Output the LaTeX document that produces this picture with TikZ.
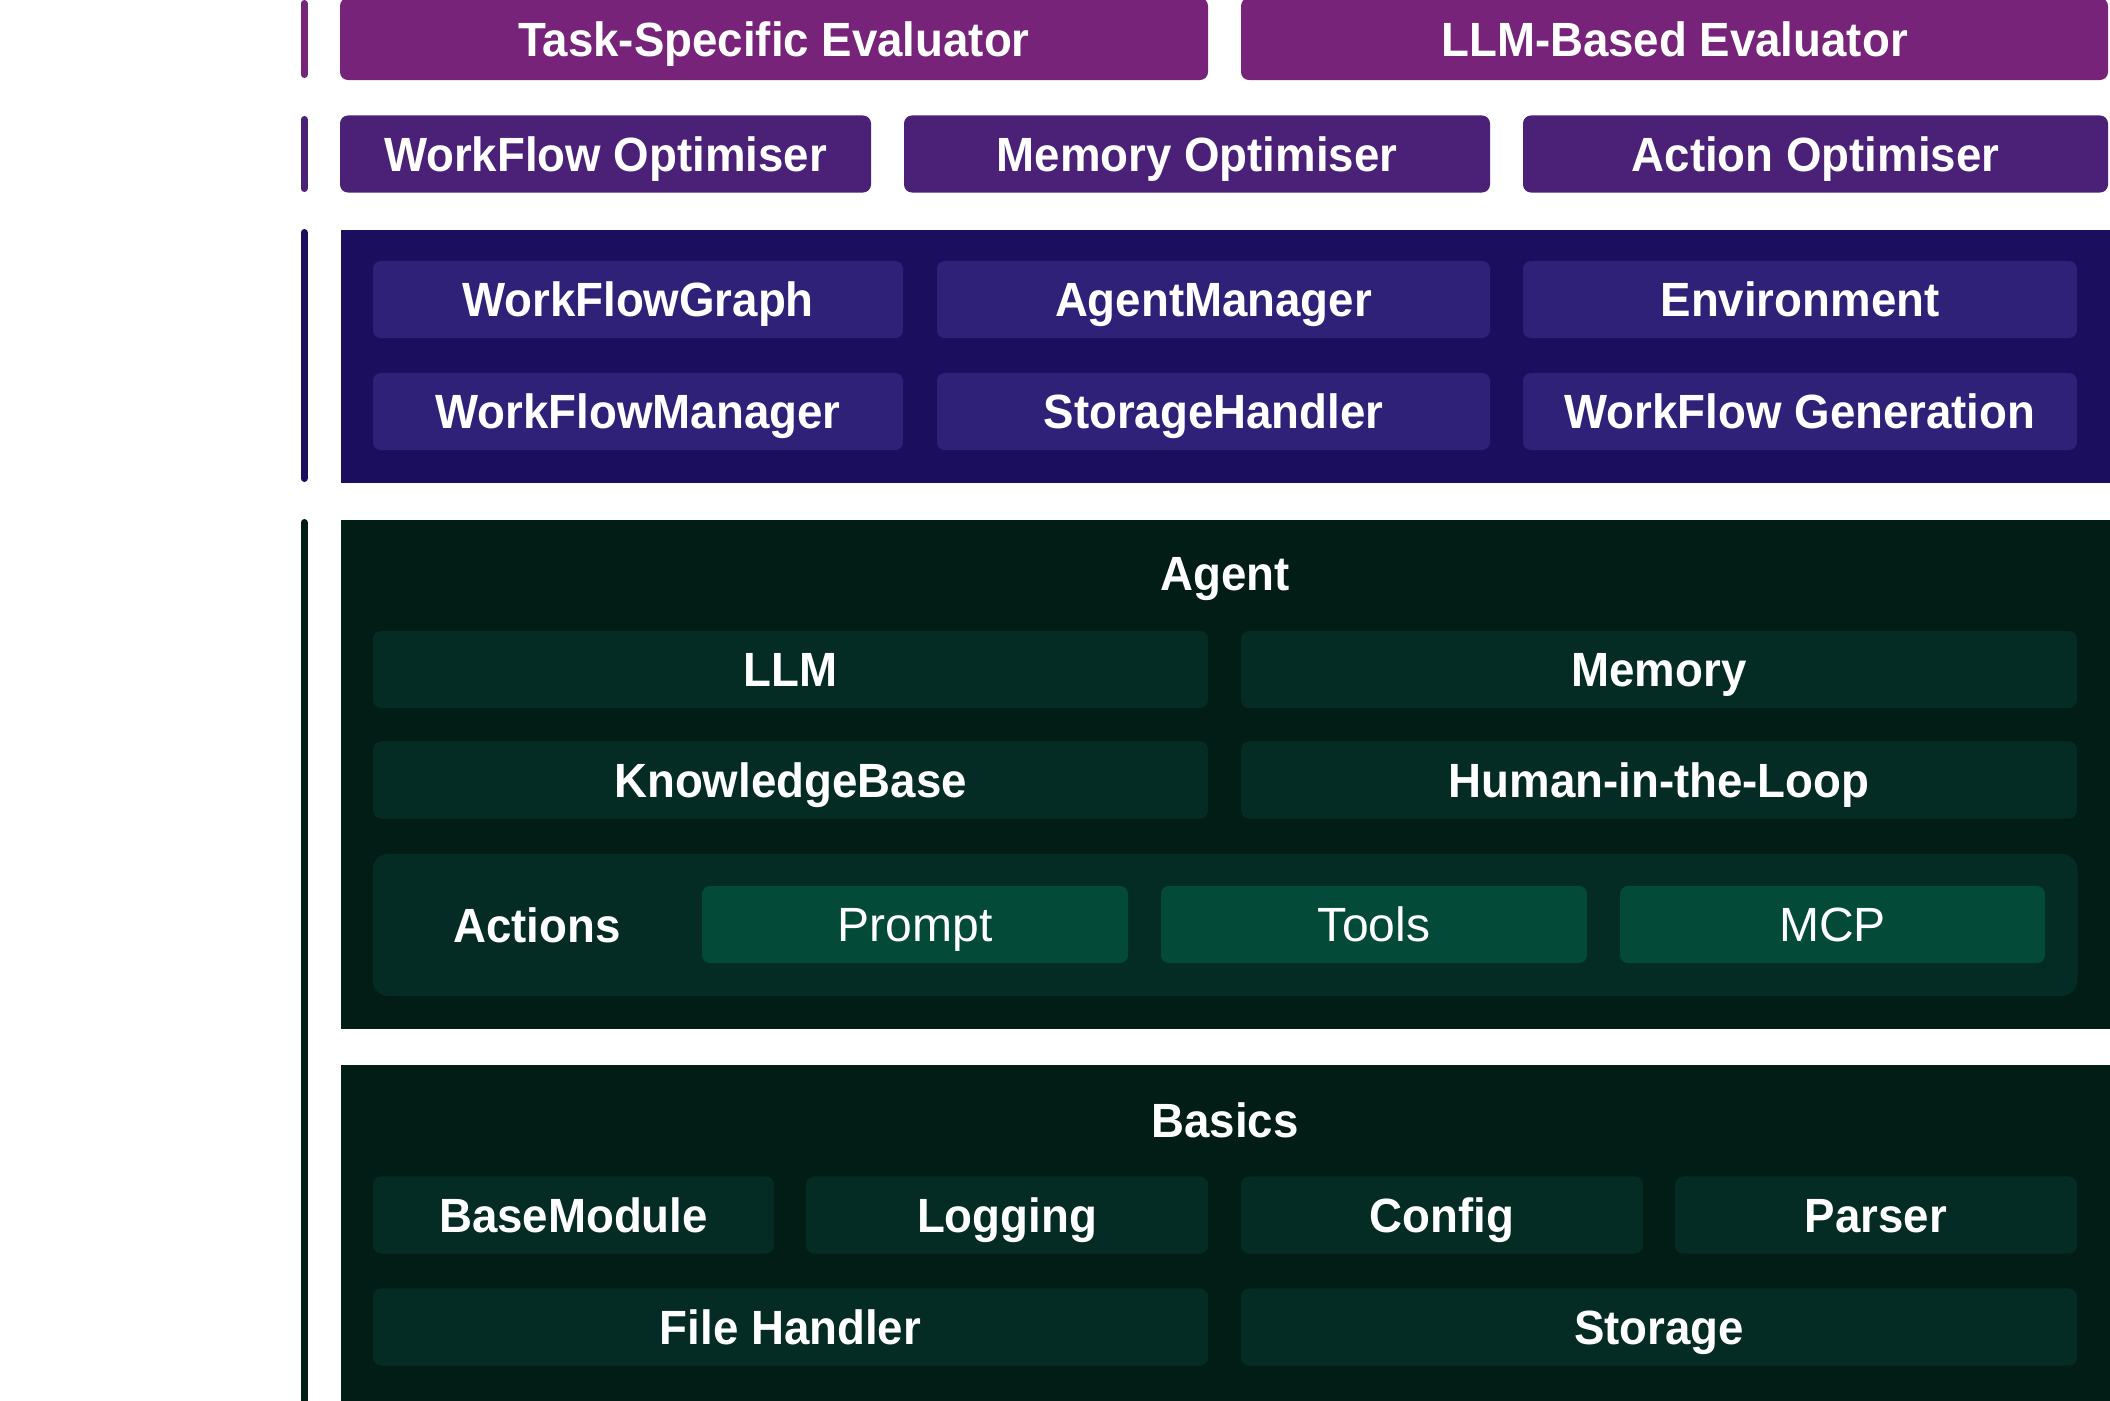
\documentclass[tikz,border=0pt]{standalone}
\usepackage{fontspec}
\setmainfont{Liberation Sans}[BoldFeatures={FakeStretch=0.95}]
\definecolor{evalc}{HTML}{77237A}
\definecolor{optc}{HTML}{4B2177}
\definecolor{wfbg}{HTML}{1C0E5E}
\definecolor{wfin}{HTML}{2F2178}
\definecolor{agbg}{HTML}{021C16}
\definecolor{agin}{HTML}{042C24}
\definecolor{actc}{HTML}{034B38}
\begin{document}
\begin{tikzpicture}[x=0.01cm,y=-0.01cm,
  lbl/.style={text=white,inner sep=0pt,text height=0.345cm,text depth=0pt,font=\bfseries\fontsize{13.66pt}{16pt}\selectfont},
  blk/.style={lbl,rounded corners=0.08cm,minimum height=0.77cm},
  reg/.style={font=\mdseries\fontsize{13.66pt}{16pt}\selectfont},
  sect/.style={inner sep=0pt,anchor=north west,minimum width=17.7cm},
  bar/.style={line width=0.07cm,line cap=round}]
\useasboundingbox(0,0)rectangle(2110,1400);
\clip(0,0)rectangle(2110,1400);
%left bars
\foreach \ya/\yb/\cl in {0/78/evalc,116/192/optc,229/482/wfbg,519/1420/agbg}{\draw[bar,\cl](304,\ya+3.5)--(304,\yb-3.5);}
%evaluators and optimisers
\foreach \nm/\xa/\xb/\lb in {taskeval/340/1208/{Task-Specific Evaluator},llmeval/1241/2108/{LLM-Based Evaluator}}{\node[blk,fill=evalc,minimum width=(\xb-\xa)*0.01cm,minimum height=0.82cm](\nm) at ({(\xa+\xb)/2},39){\lb};}
\foreach \nm/\xa/\xb/\lb in {wfopt/340/871/{WorkFlow Optimiser},memopt/904/1490/{Memory Optimiser},actopt/1523/2108/{Action Optimiser}}{\node[blk,fill=optc,minimum width=(\xb-\xa)*0.01cm](\nm) at ({(\xa+\xb)/2},154){\lb};}
%workflow layer
\node[sect,fill=wfbg,minimum height=2.53cm](wfsec) at (340,229){};
\foreach \nm/\xa/\xb/\y/\lb in {wfgraph/373/903/299.5/{WorkFlowGraph},agmgr/937/1490/299.5/{AgentManager},env/1523/2077/299.5/{Environment},
  wfmgr/373/903/411.5/{WorkFlowManager},storeh/937/1490/411.5/{StorageHandler},wfgen/1523/2077/411.5/{WorkFlow Generation}}{\node[blk,fill=wfin,minimum width=(\xb-\xa)*0.01cm](\nm) at ({(\xa+\xb)/2},\y){\lb};}
%agent layer
\node[sect,fill=agbg,minimum height=5.09cm](agsec) at (340,519){};
\node[lbl](agtitle) at (1225,573){Agent};
\foreach \nm/\xa/\xb/\y/\lb in {llm/373/1208/669.5/{LLM},mem/1241/2077/669.5/{Memory},
  kb/373/1208/780/{KnowledgeBase},hitl/1241/2077/780/{Human-in-the-Loop}}{\node[blk,fill=agin,minimum width=(\xb-\xa)*0.01cm](\nm) at ({(\xa+\xb)/2},\y){\lb};}
\node[blk,fill=agin,rounded corners=0.16cm,minimum width=17.04cm,minimum height=1.42cm](acts) at (1225,925){};
\node[lbl](actlb) at (537,925){Actions};
\foreach \nm/\xa/\xb/\lb in {prompt/702/1128/{Prompt},tools/1161/1587/{Tools},mcp/1620/2045/{MCP}}{\node[blk,reg,fill=actc,minimum width=(\xb-\xa)*0.01cm](\nm) at ({(\xa+\xb)/2},924.5){\lb};}
%basics layer
\node[sect,fill=agbg,minimum height=3.6cm](bssec) at (340,1064){};
\node[lbl](bstitle) at (1225,1120){Basics};
\foreach \nm/\xa/\xb/\y/\lb in {basemod/373/774/1215/{BaseModule},logging/806/1208/1215/{Logging},config/1241/1643/1215/{Config},parser/1675/2077/1215/{Parser},
  filehd/373/1208/1327/{File Handler},storage/1241/2077/1327/{Storage}}{\node[blk,fill=agin,minimum width=(\xb-\xa)*0.01cm](\nm) at ({(\xa+\xb)/2},\y){\lb};}
\end{tikzpicture}
\end{document}
